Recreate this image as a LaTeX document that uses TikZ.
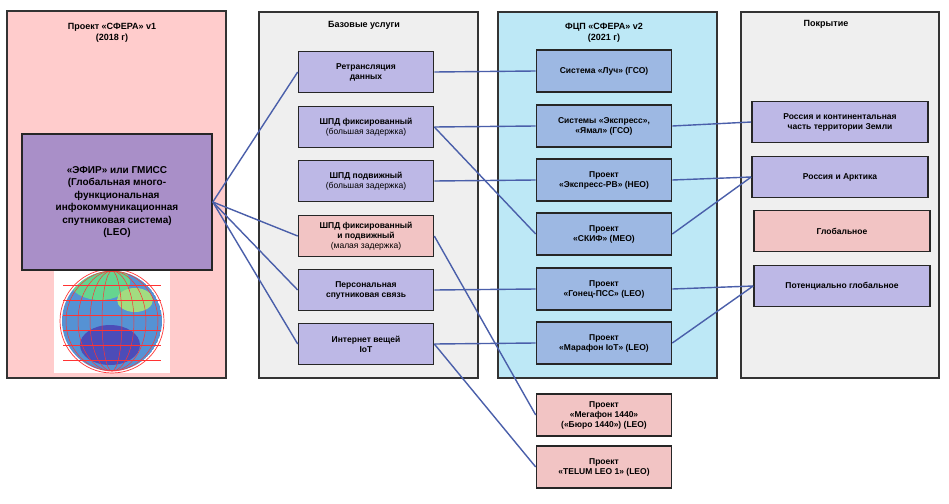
\documentclass[tikz,border=0pt]{standalone}
\usepackage{fontspec}
\setmainfont{Liberation Sans}
\begin{document}
\begin{tikzpicture}[x=1pt,y=-1pt,
 col/.style={draw=black!80,line width=1.4pt},
 box/.style={draw=black!85,line width=1.6pt,font=\fontsize{8.5}{10}\selectfont\bfseries,align=center,inner sep=1pt},
 sub/.style={font=\fontsize{8.5}{10}\selectfont\mdseries},
 ttl/.style={font=\fontsize{9}{11}\selectfont\bfseries,align=center},
 ln/.style={draw=lnc,line width=1.4pt}]
\definecolor{pinkbg}{HTML}{FFCCCC}
\definecolor{graybg}{HTML}{EFEFEF}
\definecolor{bluebg}{HTML}{BDE8F6}
\definecolor{purp}{HTML}{A98FC8}
\definecolor{lav}{HTML}{BDB8E6}
\definecolor{sblue}{HTML}{9DB8E3}
\definecolor{spink}{HTML}{F2C4C4}
\definecolor{lnc}{HTML}{4A5FAA}
\useasboundingbox (0,0) rectangle (949,503);
\fill[white] (0,0) rectangle (949,503);
\draw[col,fill=pinkbg] (7,11) rectangle (226,378);
\draw[col,fill=graybg] (259,12) rectangle (478,378);
\draw[col,fill=bluebg] (498,12) rectangle (717,378);
\draw[col,fill=graybg] (741,12) rectangle (939,378);
\node[ttl] (t1) at (112,33) {Проект «СФЕРА» v1\\(2018 г)};
\node[ttl] (t2) at (364,25) {Базовые услуги};
\node[ttl] (t3) at (604,33) {ФЦП «СФЕРА» v2\\(2021 г)};
\node[ttl] (t4) at (826,24) {Покрытие};
% globe
\fill[white] (54,271) rectangle (170,373);
\begin{scope}
\clip (112,321) circle (50);
\fill[cyan!55!blue!70] (112,321) circle (50);
\fill[green!45!teal!60] (100,282) ellipse (30 and 18);
\fill[green!45!olive!50] (135,300) ellipse (18 and 12);
\fill[blue!60!black!70] (110,345) ellipse (30 and 20);
\end{scope}
\foreach \r in {10,22,34,46}{\draw[red!80,line width=0.5pt] (112,321) ellipse (\r pt and 50pt);}
\foreach \yy in {285,300,315,330,345,360}{\draw[red!80,line width=0.5pt] (63,\yy) -- (161,\yy);}
\draw[red!80,line width=0.7pt] (112,321) circle (52);
\node[box,fill=purp,minimum width=190,minimum height=136,font=\fontsize{10}{12.5}\selectfont\bfseries] (efir) at (117,202) {«ЭФИР» или ГМИСС\\(Глобальная много-\\функциональная\\инфокоммуникационная\\спутниковая система)\\(LEO)};
% services
\tikzset{svc/.style={box,minimum width=135,minimum height=41}}
\node[svc,fill=lav] (s1) at (366,72) {Ретрансляция\\данных};
\node[svc,fill=lav] (s2) at (366,127) {ШПД фиксированный\\{\mdseries(большая задержка)}};
\node[svc,fill=lav] (s3) at (366,181) {ШПД подвижный\\{\mdseries(большая задержка)}};
\node[svc,fill=spink] (s4) at (366,236) {ШПД фиксированный\\и подвижный\\{\mdseries(малая задержка)}};
\node[svc,fill=lav] (s5) at (366,290) {Персональная\\спутниковая связь};
\node[svc,fill=lav] (s6) at (366,344) {Интернет вещей\\IoT};
% projects
\tikzset{prj/.style={box,fill=sblue,minimum width=135,minimum height=42}}
\node[prj] (p1) at (604,71) {Система «Луч» (ГСО)};
\node[prj] (p2) at (604,126) {Системы «Экспресс»,\\«Ямал» (ГСО)};
\node[prj] (p3) at (604,180) {Проект\\«Экспресс-РВ» (НЕО)};
\node[prj] (p4) at (604,234) {Проект\\«СКИФ» (МЕО)};
\node[prj] (p5) at (604,289) {Проект\\«Гонец-ПСС» (LEO)};
\node[prj] (p6) at (604,343) {Проект\\«Марафон IoT» (LEO)};
\node[prj,fill=spink] (p7) at (604,415) {Проект\\«Мегафон 1440»\\(«Бюро 1440») (LEO)};
\node[prj,fill=spink] (p8) at (604,467) {Проект\\«TELUM LEO 1» (LEO)};
% coverage
\tikzset{cov/.style={box,fill=lav,minimum width=176,minimum height=41}}
\node[cov] (c1) at (840,122) {Россия и континентальная\\часть территории Земли};
\node[cov] (c2) at (840,177) {Россия и Арктика};
\node[cov,fill=spink] (c3) at (842,231) {Глобальное};
\node[cov] (c4) at (842,286) {Потенциально глобальное};
% links
\foreach \s in {s1,s4,s5,s6}{\draw[ln] (efir.east) -- (\s.west);}
\draw[ln] (s1.east) -- (p1.west);
\draw[ln] (s2.east) -- (p2.west);
\draw[ln] (s2.east) -- (p4.west);
\draw[ln] (s3.east) -- (p3.west);
\draw[ln] (s4.east) -- (p7.west);
\draw[ln] (s5.east) -- (p5.west);
\draw[ln] (s6.east) -- (p6.west);
\draw[ln] (s6.east) -- (p8.west);
\draw[ln] (p2.east) -- (c1.west);
\draw[ln] (p3.east) -- (c2.west);
\draw[ln] (p4.east) -- (c2.west);
\draw[ln] (p5.east) -- (c4.west);
\draw[ln] (p6.east) -- (c4.west);
\end{tikzpicture}
\end{document}
